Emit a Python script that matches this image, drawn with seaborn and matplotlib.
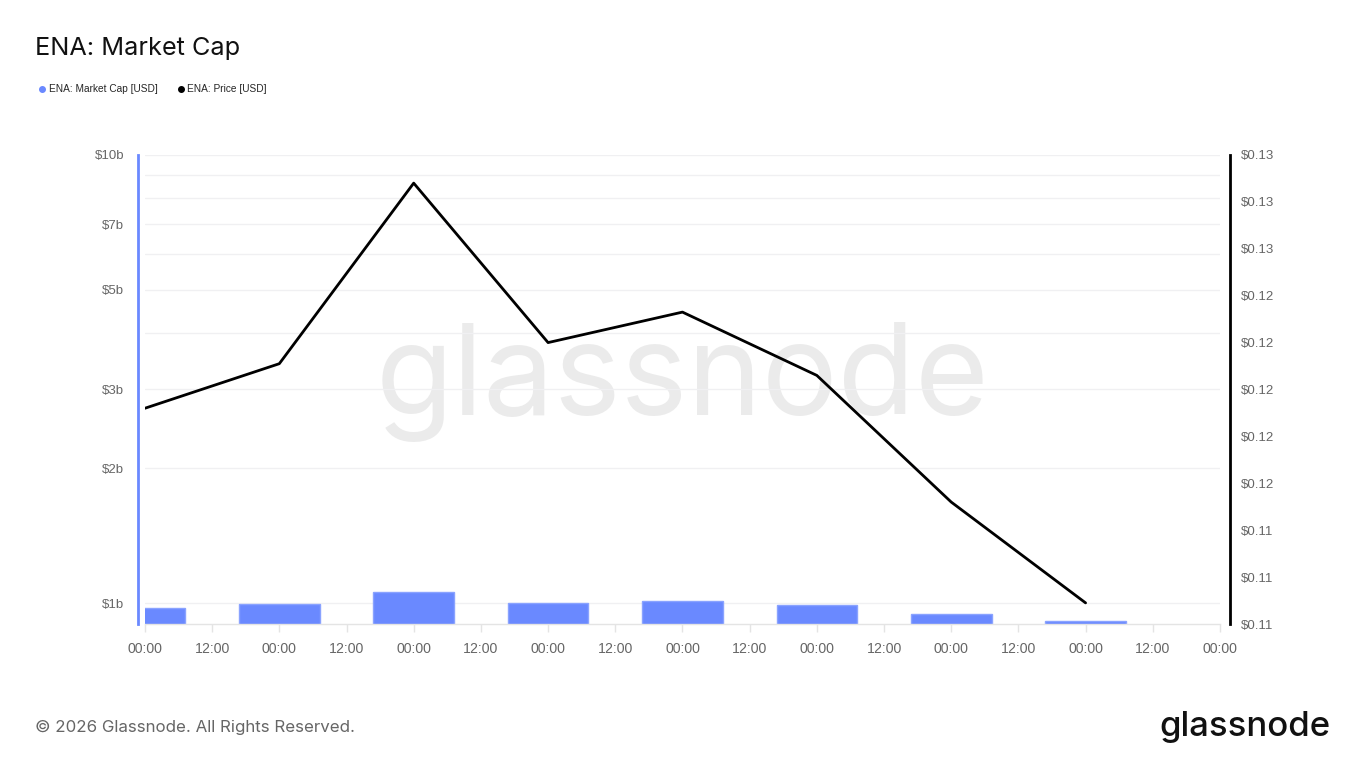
import numpy as np
import pandas as pd
import matplotlib
matplotlib.use("Agg")
import matplotlib.pyplot as plt
import seaborn as sns
from matplotlib.lines import Line2D
from matplotlib.ticker import FixedLocator, FixedFormatter, NullLocator

# Data (one point per day at 00:00)
days = [0, 1, 2, 3, 4, 5, 6, 7]
market_cap = [0.976e9, 0.995e9, 1.057e9, 1.000e9, 1.010e9, 0.990e9, 0.946e9, 0.910e9]
price = [0.1192, 0.1211, 0.1288, 0.1220, 0.1233, 0.1206, 0.1152, 0.1109]

# Axis ticks
cap_ticks = [1e9, 2e9, 3e9, 4e9, 5e9, 6e9, 7e9, 8e9, 9e9, 10e9]
cap_labels = ["$1b", "$2b", "$3b", "", "$5b", "", "$7b", "", "", "$10b"]
price_ticks = [0.110, 0.112, 0.114, 0.116, 0.118, 0.120, 0.122, 0.124, 0.126, 0.128, 0.130]
x_ticks = [0, 0.5, 1, 1.5, 2, 2.5, 3, 3.5, 4, 4.5, 5, 5.5, 6, 6.5, 7, 7.5, 8]
x_labels = ["00:00", "12:00"] * 8 + ["00:00"]

BLUE = "#6a89ff"
TXT = "#666666"
GRID = "#f0f0f2"

sns.set_theme(style="white")
plt.rcParams["font.family"] = ["Liberation Sans", "DejaVu Sans"]

df = pd.DataFrame({"day": days, "cap": market_cap, "price": price})

fig = plt.figure(figsize=(13.66, 7.68), dpi=100)
ax = fig.add_axes([0.1061, 0.1875, 0.7870, 0.6107])

# market cap bars (left, log scale)
sns.barplot(data=df, x="day", y="cap", native_scale=True, width=0.6,
            color=BLUE, edgecolor="#8aa3ff", linewidth=1, saturation=1,
            errorbar=None, ax=ax, zorder=2)
ax.set_yscale("log")
ax.set_ylim(0.898e9, 10e9)
ax.set_xlim(0, 8)
ax.yaxis.set_major_locator(FixedLocator(cap_ticks))
ax.yaxis.set_major_formatter(FixedFormatter(cap_labels))
ax.yaxis.set_minor_locator(NullLocator())
ax.grid(axis="y", color=GRID, linewidth=1, zorder=0)
ax.set_axisbelow(True)
ax.xaxis.set_major_locator(FixedLocator(x_ticks))
ax.xaxis.set_major_formatter(FixedFormatter(x_labels))
ax.tick_params(axis="x", length=6, width=1, color="#e4e4e4", pad=7,
               labelsize=10.2, labelcolor=TXT, bottom=True)
ax.tick_params(axis="y", length=0, pad=10, labelsize=9.5, labelcolor=TXT)
ax.set_xlabel("")
ax.set_ylabel("")
for s in ["top", "right"]:
    ax.spines[s].set_visible(False)
ax.spines["bottom"].set_color("#e4e4e4")
ax.spines["bottom"].set_linewidth(1)
ax.spines["left"].set_color(BLUE)
ax.spines["left"].set_linewidth(2)
ax.spines["left"].set_position(("outward", 5))

# watermark
ax.text(0.5, 0.515, "glassnode", transform=ax.transAxes, ha="center", va="center",
        fontsize=91, color="#ebebeb", family="Inter", zorder=0)

# price line (right axis)
ax2 = ax.twinx()
sns.lineplot(data=df, x="day", y="price", color="black", linewidth=2, ax=ax2)
ax2.set_ylim(0.110, 0.130)
ax2.set_xlim(0, 8)
ax2.yaxis.set_major_locator(FixedLocator(price_ticks))
ax2.set_yticklabels([f"${v:.2f}" for v in price_ticks])
ax2.tick_params(axis="y", length=0, pad=8, labelsize=9.5, labelcolor=TXT)
ax2.set_ylabel("")
ax2.grid(False)
for s in ["top", "left", "bottom"]:
    ax2.spines[s].set_visible(False)
ax2.spines["right"].set_color("black")
ax2.spines["right"].set_linewidth(2)
ax2.spines["right"].set_position(("outward", 7))

# title and legend
fig.text(0.0256, 0.937, "ENA: Market Cap", fontsize=18.2, family="Inter",
         color="#111111", va="center")
handles = [Line2D([], [], marker="o", linestyle="", color=BLUE, markersize=4),
           Line2D([], [], marker="o", linestyle="", color="black", markersize=4)]
fig.legend(handles, ["ENA: Market Cap [USD]", "ENA: Price [USD]"], loc="center left",
           bbox_to_anchor=(0.0205, 0.884), ncol=2, frameon=False, fontsize=7.3,
           handletextpad=0.15, columnspacing=1.8, handlelength=1)

# footer
fig.text(0.0256, 0.053, "\u00a9 2026 Glassnode. All Rights Reserved.", fontsize=12.2,
         family="Inter", color=TXT, va="center")
fig.text(0.974, 0.053, "glassnode", fontsize=25, family="Inter", weight="medium",
         color="#111111", ha="right", va="center")

fig.savefig("out.png", dpi=100)
